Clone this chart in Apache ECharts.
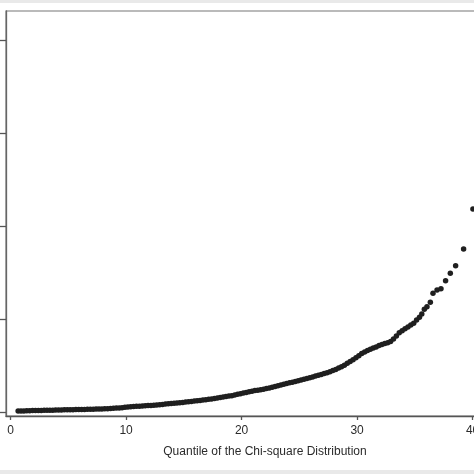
<!DOCTYPE html>
<html>
<head>
<meta charset="utf-8">
<title>Chi-square Q-Q plot</title>
<script src="https://cdn.jsdelivr.net/npm/echarts@6/dist/echarts.min.js"></script>
<style>
  html, body { margin: 0; padding: 0; background: #fff; overflow: hidden; }
  /* plot region runs past the right edge of the picture, as in the cropped original */
  #main { width: 524px; height: 474px; }
</style>
</head>
<body>
<div id="main"></div>
<script>
// dense part of the curve (quantile, ordered distance)
var quantiles = [
  0.65, 0.9, 1.15, 1.4, 1.65, 1.9, 2.15, 2.4, 2.65, 2.9,
  3.15, 3.4, 3.65, 3.9, 4.15, 4.4, 4.65, 4.9, 5.15, 5.4,
  5.65, 5.9, 6.15, 6.4, 6.65, 6.9, 7.15, 7.4, 7.65, 7.9,
  8.15, 8.4, 8.65, 8.9, 9.15, 9.4, 9.65, 9.9, 10.15, 10.4,
  10.65, 10.9, 11.15, 11.4, 11.65, 11.9, 12.15, 12.4, 12.65, 12.9,
  13.15, 13.4, 13.65, 13.9, 14.15, 14.4, 14.65, 14.9, 15.15, 15.4,
  15.65, 15.9, 16.15, 16.4, 16.65, 16.9, 17.15, 17.4, 17.65, 17.9,
  18.15, 18.4, 18.65, 18.9, 19.15, 19.4, 19.65, 19.9, 20.15, 20.4,
  20.65, 20.9, 21.15, 21.4, 21.65, 21.9, 22.15, 22.4, 22.65, 22.9,
  23.15, 23.4, 23.65, 23.9, 24.15, 24.4, 24.65, 24.9, 25.15, 25.4,
  25.65, 25.9, 26.15, 26.4, 26.65, 26.9, 27.15, 27.4, 27.65, 27.9,
  28.15, 28.4, 28.65, 28.9, 29.15, 29.4, 29.65, 29.9, 30.15, 30.4,
  30.65, 30.9, 31.15, 31.4, 31.65, 31.9, 32.15, 32.4, 32.65, 32.9,
  33.15, 33.4, 33.65, 33.9, 34.15, 34.4, 34.65, 34.9, 35.15, 35.4,
  35.6
];
var distances = [
  1.1, 1.1, 1.2, 1.3, 1.4, 1.5, 1.6, 1.7, 1.7, 1.8,
  1.9, 2.0, 2.0, 2.1, 2.2, 2.2, 2.3, 2.4, 2.4, 2.5,
  2.6, 2.6, 2.7, 2.8, 2.9, 2.9, 3.0, 3.1, 3.2, 3.3,
  3.5, 3.6, 3.8, 4.0, 4.2, 4.4, 4.7, 5.0, 5.3, 5.7,
  5.9, 6.1, 6.3, 6.5, 6.7, 6.9, 7.1, 7.3, 7.6, 7.9,
  8.2, 8.5, 8.8, 9.1, 9.4, 9.7, 10.0, 10.3, 10.7, 11.0,
  11.4, 11.8, 12.2, 12.5, 12.9, 13.3, 13.7, 14.1, 14.5, 15.0,
  15.5, 16.0, 16.6, 17.1, 17.6, 18.3, 19.0, 19.7, 20.4, 21.1,
  21.8, 22.4, 23.0, 23.5, 24.0, 24.5, 25.2, 25.9, 26.7, 27.5,
  28.3, 29.1, 29.9, 30.7, 31.4, 32.1, 32.9, 33.6, 34.3, 35.1,
  35.9, 36.8, 37.7, 38.6, 39.5, 40.4, 41.3, 42.3, 43.3, 44.5,
  45.8, 47.2, 48.7, 50.3, 52.3, 54.2, 56.2, 58.3, 60.6, 62.8,
  64.5, 66.0, 67.4, 68.7, 70.0, 71.4, 72.6, 73.6, 74.6, 75.8,
  78.5, 81.8, 85.2, 87.5, 89.5, 91.5, 93.5, 95.5, 98.8, 102.0,
  105.5
];
// sparse upper tail
var tailQuantiles = [35.82, 36.05, 36.34, 36.57, 36.92, 37.26, 37.66, 38.07, 38.53, 39.22, 40.03];
var tailDistances = [110.4, 113.2, 118.0, 127.6, 131.2, 132.6, 141.2, 149.1, 157.3, 175.3, 218.3];

var xTicks = [0, 10, 20, 30, 40];
var yTicks = [0, 100, 200, 300, 400];

var points = [];
for (var i = 0; i < quantiles.length; i++) {
  points.push([quantiles[i], distances[i]]);
}
for (var j = 0; j < tailQuantiles.length; j++) {
  points.push([tailQuantiles[j], tailDistances[j]]);
}

var chart = echarts.init(document.getElementById('main'), null, { renderer: 'canvas' });

var option = {
  animation: false,
  backgroundColor: '#fff',
  textStyle: { fontFamily: 'Liberation Sans, Arial, sans-serif' },
  grid: {
    left: 6,
    right: 0,
    top: 11,
    bottom: 58,
    show: true,
    backgroundColor: '#fff',
    borderColor: '#777',
    borderWidth: 1.2
  },
  graphic: [
    { type: 'rect', left: 0, top: 0, shape: { width: 524, height: 3 }, style: { fill: '#e9e9e9' }, silent: true },
    { type: 'rect', left: 0, top: 470, shape: { width: 524, height: 4 }, style: { fill: '#e9e9e9' }, silent: true }
  ],
  xAxis: {
    type: 'value',
    min: -0.4,
    max: 44.45,
    name: 'Quantile of the Chi-square Distribution',
    nameLocation: 'middle',
    nameGap: 30,
    nameTextStyle: { fontSize: 12, color: '#2b2b2b' },
    axisLine: { show: true, onZero: false, lineStyle: { color: '#555', width: 1.3 } },
    axisTick: { show: true, length: 4, customValues: xTicks, lineStyle: { color: '#555', width: 1.3 } },
    axisLabel: { show: true, customValues: xTicks, fontSize: 12, color: '#2b2b2b', margin: 9 },
    splitLine: { show: false }
  },
  yAxis: {
    type: 'value',
    min: -4.3,
    max: 431.2,
    axisLine: { show: true, onZero: false, lineStyle: { color: '#666', width: 1.3 } },
    axisTick: { show: true, length: 6, customValues: yTicks, lineStyle: { color: '#555', width: 1.3 } },
    axisLabel: { show: false },
    splitLine: { show: false }
  },
  series: [
    {
      type: 'scatter',
      data: points,
      symbol: 'circle',
      symbolSize: 5.5,
      itemStyle: { color: '#1f1f1f', opacity: 1 }
    }
  ]
};

chart.setOption(option);
</script>
</body>
</html>
